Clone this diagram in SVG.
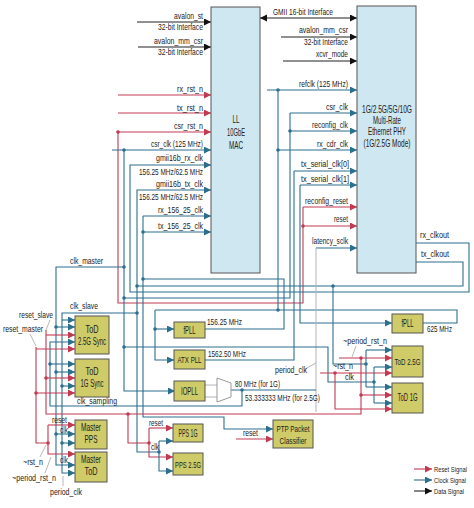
<svg xmlns="http://www.w3.org/2000/svg" width="474" height="508" viewBox="0 0 474 508">
<defs>
<style>
.t{font-family:"Liberation Sans",Arial,sans-serif;font-size:9.5px;fill:#222}
.b{font-family:"Liberation Sans",Arial,sans-serif;font-size:10.5px;fill:#222}
.lg{font-family:"Liberation Sans",Arial,sans-serif;font-size:7px;fill:#222}
.e{text-anchor:end}
.m{text-anchor:middle}
.big{fill:#cfe7f1;stroke:#555;stroke-width:1}
.y{fill:#cfcb68;stroke:#555;stroke-width:1}
.k{fill:none;stroke:#222;stroke-width:1.1}
.r{fill:none;stroke:#c23a52;stroke-width:1.1}
.c{fill:none;stroke:#2b6f8e;stroke-width:1.1}
.g{fill:none;stroke:#aeb3bb;stroke-width:1}
.ld{fill:none;stroke:#999;stroke-width:0.7}
.dc{fill:#2b6f8e}
.dr{fill:#c23a52}
</style>
<marker id="ak" markerUnits="userSpaceOnUse" markerWidth="8" markerHeight="8" refX="7" refY="3.5" orient="auto-start-reverse"><path d="M0,0 L7,3.5 L0,7 z" fill="#111"/></marker>
<marker id="ar" markerUnits="userSpaceOnUse" markerWidth="8" markerHeight="8" refX="7" refY="3.5" orient="auto"><path d="M0,0 L7,3.5 L0,7 z" fill="#c23a52"/></marker>
<marker id="ac" markerUnits="userSpaceOnUse" markerWidth="8" markerHeight="8" refX="7" refY="3.5" orient="auto"><path d="M0,0 L7,3.5 L0,7 z" fill="#2b6f8e"/></marker>
</defs>
<rect width="474" height="508" fill="#fff"/>

<g id="connectors">
<path class="k" d="M137 22 H211" marker-end="url(#ak)"/>
<path class="k" d="M138 47 H211" marker-end="url(#ak)"/>
<path class="k" d="M260 18 H357" marker-start="url(#ak)" marker-end="url(#ak)"/>
<path class="k" d="M281 37 H357" marker-end="url(#ak)"/>
<path class="k" d="M283 61 H357" marker-end="url(#ak)"/>
<path class="r" d="M118 95 H211" marker-end="url(#ar)"/>
<path class="r" d="M118 113 H211" marker-end="url(#ar)"/>
<path class="r" d="M118 132 H211" marker-end="url(#ar)"/>
<path class="r" d="M118 132 V303 H303 V207"/>
<path class="r" d="M303 207 H357" marker-end="url(#ar)"/>
<path class="r" d="M303 226 H357" marker-end="url(#ar)"/>
<path class="c" d="M112 150 H211" marker-end="url(#ac)"/>
<path class="c" d="M124 150 V391 H175" marker-end="url(#ac)"/>
<path class="c" d="M416 243 H469 V292 H130 V165 H211" marker-end="url(#ac)"/>
<path class="c" d="M416 262 H463 V286 H137 V190 H211" marker-end="url(#ac)"/>
<path class="c" d="M143 216 H211" marker-end="url(#ac)"/>
<path class="c" d="M143 232 H211" marker-end="url(#ac)"/>
<path class="c" d="M143 216 V417 H224 V429 H273" marker-end="url(#ac)"/>
<path class="c" d="M205 329 H284 V279 H143"/>
<path class="c" d="M267 90 H357" marker-end="url(#ac)"/>
<path class="c" d="M278 90 V310"/>
<path class="c" d="M155 310 H457 V323 H423"/>
<path class="c" d="M155 310 V360 H174" marker-end="url(#ac)"/>
<path class="c" d="M155 329 H174" marker-end="url(#ac)"/>
<path class="c" d="M290 113 H357" marker-end="url(#ac)"/>
<path class="c" d="M290 131 H357" marker-end="url(#ac)"/>
<path class="c" d="M290 113 V298 H124"/>
<path class="c" d="M278 150 H357" marker-end="url(#ac)"/>
<path class="c" d="M294 171 H357" marker-end="url(#ac)"/>
<path class="c" d="M205 360 H294 V171"/>
<path class="c" d="M300 185 H357" marker-end="url(#ac)"/>
<path class="c" d="M300 185 V323 H392" marker-end="url(#ac)"/>
<path class="c" d="M316 248 H357" marker-end="url(#ac)"/>
<path class="g" d="M316 248 V412"/>
<path class="c" d="M124 267 H56 V465 H75" marker-end="url(#ac)"/>
<path class="c" d="M56 327 H75" marker-end="url(#ac)"/>
<path class="c" d="M56 372 H75" marker-end="url(#ac)"/>
<path class="c" d="M56 434 H75" marker-end="url(#ac)"/>
<path class="c" d="M137 286 V452 H159"/>
<path class="c" d="M137 313 H62 V473 H75" marker-end="url(#ac)"/>
<path class="c" d="M62 320 H75" marker-end="url(#ac)"/>
<path class="c" d="M62 386 H75" marker-end="url(#ac)"/>
<path class="c" d="M62 443 H75" marker-end="url(#ac)"/>
<path class="c" d="M242 390 V406 H50 V342 H75" marker-end="url(#ac)"/>
<path class="c" d="M50 364 H75" marker-end="url(#ac)"/>
<path class="g" d="M205 385 H217 M205 397 H217"/>
<path class="c" d="M231 390 H316"/>
<path class="c" d="M124 347 H328 V382 H374"/>
<path class="c" d="M374 367 V403"/>
<path class="c" d="M374 367 H392" marker-end="url(#ac)"/>
<path class="c" d="M374 403 H392" marker-end="url(#ac)"/>
<path class="c" d="M333 286 V364 H366"/>
<path class="c" d="M366 350 V387"/>
<path class="c" d="M366 350 H392" marker-end="url(#ac)"/>
<path class="c" d="M366 387 H392" marker-end="url(#ac)"/>
<path class="r" d="M339 358 H392" marker-end="url(#ar)"/>
<path class="r" d="M361 358 V414 H46 V330"/>
<path class="r" d="M361 395 H392" marker-end="url(#ar)"/>
<path class="r" d="M320 373 H392" marker-end="url(#ar)"/>
<path class="r" d="M335 373 V409 H392" marker-end="url(#ar)"/>
<path class="r" d="M46 335 H75" marker-end="url(#ar)"/>
<path class="r" d="M46 378 H75" marker-end="url(#ar)"/>
<path class="r" d="M36 347 V443 H48"/>
<path class="r" d="M36 349 H75" marker-end="url(#ar)"/>
<path class="r" d="M36 393 H75" marker-end="url(#ar)"/>
<path class="r" d="M48 425 V454 H75" marker-end="url(#ar)"/>
<path class="r" d="M48 425 H75" marker-end="url(#ar)"/>
<path class="r" d="M128 414 V443 H149"/>
<path class="r" d="M149 428 V457 H173" marker-end="url(#ar)"/>
<path class="r" d="M149 428 H173" marker-end="url(#ar)"/>
<path class="c" d="M159 441 V471 H173" marker-end="url(#ac)"/>
<path class="c" d="M159 441 H173" marker-end="url(#ac)"/>
<path class="r" d="M236 439 H273" marker-end="url(#ar)"/>
<path class="ld" d="M50 320 L46 330 M30 334 L36 346 M356 346 L352 357 M305 369 L316 363 M40 457 L46 445 M45 473 L51 457 M63 486 L63 476"/>
<g class="dc">
<circle cx="124" cy="150" r="1.8"/><circle cx="124" cy="267" r="1.8"/><circle cx="124" cy="298" r="1.8"/><circle cx="124" cy="347" r="1.8"/>
<circle cx="137" cy="286" r="1.8"/><circle cx="333" cy="286" r="1.8"/><circle cx="137" cy="313" r="1.8"/>
<circle cx="143" cy="232" r="1.8"/><circle cx="143" cy="279" r="1.8"/>
<circle cx="278" cy="90" r="1.8"/><circle cx="278" cy="150" r="1.8"/><circle cx="278" cy="310" r="1.8"/><circle cx="155" cy="329" r="1.8"/>
<circle cx="290" cy="131" r="1.8"/>
<circle cx="56" cy="327" r="1.8"/><circle cx="56" cy="372" r="1.8"/><circle cx="56" cy="434" r="1.8"/>
<circle cx="62" cy="386" r="1.8"/><circle cx="62" cy="443" r="1.8"/>
<circle cx="50" cy="364" r="1.8"/><circle cx="242" cy="390" r="1.8"/>
<circle cx="374" cy="382" r="1.8"/><circle cx="366" cy="364" r="1.8"/>
<circle cx="159" cy="452" r="1.8"/>
</g>
<g class="dr">
<circle cx="118" cy="132" r="1.8"/><circle cx="303" cy="226" r="1.8"/>
<circle cx="361" cy="358" r="1.8"/><circle cx="361" cy="395" r="1.8"/><circle cx="335" cy="373" r="1.8"/>
<circle cx="46" cy="378" r="1.8"/><circle cx="36" cy="393" r="1.8"/><circle cx="48" cy="443" r="1.8"/>
<circle cx="128" cy="414" r="1.8"/><circle cx="149" cy="443" r="1.8"/>
</g>
</g>

<g id="labels">
<text class="t e" x="203" y="19" textLength="29" lengthAdjust="spacingAndGlyphs">avalon_st</text>
<text class="t e" x="203" y="30" textLength="45" lengthAdjust="spacingAndGlyphs">32-bit Interface</text>
<text class="t e" x="203" y="44" textLength="49" lengthAdjust="spacingAndGlyphs">avalon_mm_csr</text>
<text class="t e" x="203" y="55" textLength="45" lengthAdjust="spacingAndGlyphs">32-bit Interface</text>
<text class="t e" x="203" y="92" textLength="26" lengthAdjust="spacingAndGlyphs">rx_rst_n</text>
<text class="t e" x="203" y="111" textLength="26" lengthAdjust="spacingAndGlyphs">tx_rst_n</text>
<text class="t e" x="203" y="129" textLength="29" lengthAdjust="spacingAndGlyphs">csr_rst_n</text>
<text class="t e" x="203" y="147" textLength="52" lengthAdjust="spacingAndGlyphs">csr_clk (125 MHz)</text>
<text class="t e" x="203" y="161" textLength="47" lengthAdjust="spacingAndGlyphs">gmii16b_rx_clk</text>
<text class="t e" x="203" y="175" textLength="64" lengthAdjust="spacingAndGlyphs">156.25 MHz/62.5 MHz</text>
<text class="t e" x="203" y="187" textLength="47" lengthAdjust="spacingAndGlyphs">gmii16b_tx_clk</text>
<text class="t e" x="203" y="200" textLength="64" lengthAdjust="spacingAndGlyphs">156.25 MHz/62.5 MHz</text>
<text class="t e" x="203" y="213" textLength="45" lengthAdjust="spacingAndGlyphs">rx_156_25_clk</text>
<text class="t e" x="203" y="229" textLength="45" lengthAdjust="spacingAndGlyphs">tx_156_25_clk</text>
<text class="t" x="70" y="264" textLength="33" lengthAdjust="spacingAndGlyphs">clk_master</text>
<text class="t" x="273" y="15" textLength="60" lengthAdjust="spacingAndGlyphs">GMII 16-bit Interface</text>
<text class="t e" x="348" y="33" textLength="49" lengthAdjust="spacingAndGlyphs">avalon_mm_csr</text>
<text class="t e" x="348" y="45" textLength="44" lengthAdjust="spacingAndGlyphs">32-bit Interface</text>
<text class="t e" x="348" y="57" textLength="32" lengthAdjust="spacingAndGlyphs">xcvr_mode</text>
<text class="t e" x="348" y="87" textLength="49" lengthAdjust="spacingAndGlyphs">refclk (125 MHz)</text>
<text class="t e" x="348" y="110" textLength="22" lengthAdjust="spacingAndGlyphs">csr_clk</text>
<text class="t e" x="348" y="128" textLength="36" lengthAdjust="spacingAndGlyphs">reconfig_clk</text>
<text class="t e" x="348" y="147" textLength="31" lengthAdjust="spacingAndGlyphs">rx_cdr_clk</text>
<text class="t e" x="349" y="167" textLength="48" lengthAdjust="spacingAndGlyphs">tx_serial_clk[0]</text>
<text class="t e" x="349" y="182" textLength="48" lengthAdjust="spacingAndGlyphs">tx_serial_clk[1]</text>
<text class="t e" x="348" y="204" textLength="43" lengthAdjust="spacingAndGlyphs">reconfig_reset</text>
<text class="t e" x="348" y="222" textLength="14" lengthAdjust="spacingAndGlyphs">reset</text>
<text class="t e" x="348" y="244" textLength="36" lengthAdjust="spacingAndGlyphs">latency_sclk</text>
<text class="t e" x="449" y="238" textLength="29" lengthAdjust="spacingAndGlyphs">rx_clkout</text>
<text class="t e" x="449" y="257" textLength="28" lengthAdjust="spacingAndGlyphs">tx_clkout</text>
<text class="t" x="70" y="309" textLength="28" lengthAdjust="spacingAndGlyphs">clk_slave</text>
<text class="t" x="19" y="318" textLength="34" lengthAdjust="spacingAndGlyphs">reset_slave</text>
<text class="t" x="3" y="332" textLength="40" lengthAdjust="spacingAndGlyphs">reset_master</text>
<text class="t" x="77" y="404" textLength="40" lengthAdjust="spacingAndGlyphs">clk_sampling</text>
<text class="t" x="207" y="325" textLength="35" lengthAdjust="spacingAndGlyphs">156.25 MHz</text>
<text class="t" x="208" y="357" textLength="38" lengthAdjust="spacingAndGlyphs">1562.50 MHz</text>
<text class="t" x="275" y="373" textLength="32" lengthAdjust="spacingAndGlyphs">period_clk</text>
<text class="t" x="235" y="387" textLength="45" lengthAdjust="spacingAndGlyphs">80 MHz (for 1G)</text>
<text class="t" x="245" y="401" textLength="75" lengthAdjust="spacingAndGlyphs">53.333333 MHz (for 2.5G)</text>
<text class="t e" x="452" y="332" textLength="25" lengthAdjust="spacingAndGlyphs">625 MHz</text>
<text class="t" x="343" y="344" textLength="44" lengthAdjust="spacingAndGlyphs">~period_rst_n</text>
<text class="t" x="333" y="369" textLength="20" lengthAdjust="spacingAndGlyphs">~rst_n</text>
<text class="t" x="345" y="380" textLength="9" lengthAdjust="spacingAndGlyphs">clk</text>
<text class="t" x="52" y="423" textLength="15" lengthAdjust="spacingAndGlyphs">reset</text>
<text class="t" x="60" y="433" textLength="8" lengthAdjust="spacingAndGlyphs">clk</text>
<text class="t" x="60" y="463" textLength="8" lengthAdjust="spacingAndGlyphs">clk</text>
<text class="t" x="23" y="465" textLength="20" lengthAdjust="spacingAndGlyphs">~rst_n</text>
<text class="t" x="12" y="481" textLength="44" lengthAdjust="spacingAndGlyphs">~period_rst_n</text>
<text class="t" x="50" y="495" textLength="32" lengthAdjust="spacingAndGlyphs">period_clk</text>
<text class="t" x="149" y="426" textLength="14" lengthAdjust="spacingAndGlyphs">reset</text>
<text class="t" x="151" y="450" textLength="8" lengthAdjust="spacingAndGlyphs">clk</text>
<text class="t" x="243" y="436" textLength="15" lengthAdjust="spacingAndGlyphs">reset</text>
</g>

<g id="mac">
<rect class="big" x="211" y="7" width="49" height="266"/>
<text class="b m" x="236" y="123" textLength="7" lengthAdjust="spacingAndGlyphs">LL</text>
<text class="b m" x="236" y="136" textLength="18" lengthAdjust="spacingAndGlyphs">10GbE</text>
<text class="b m" x="236" y="149" textLength="14" lengthAdjust="spacingAndGlyphs">MAC</text>
</g>
<g id="phy">
<rect class="big" x="357" y="6" width="59" height="267"/>
<text class="b m" x="387" y="113" textLength="50" lengthAdjust="spacingAndGlyphs">1G/2.5G/5G/10G</text>
<text class="b m" x="387" y="124" textLength="28" lengthAdjust="spacingAndGlyphs">Multi-Rate</text>
<text class="b m" x="387" y="135" textLength="38" lengthAdjust="spacingAndGlyphs">Ethernet PHY</text>
<text class="b m" x="387" y="147" textLength="47" lengthAdjust="spacingAndGlyphs">(1G/2.5G Mode)</text>
</g>
<g id="tod25sync">
<rect class="y" x="75" y="316" width="34" height="38"/>
<text class="b m" x="92" y="333" textLength="13" lengthAdjust="spacingAndGlyphs">ToD</text>
<text class="b m" x="92" y="345" textLength="28" lengthAdjust="spacingAndGlyphs">2.5G Sync</text>
</g>
<g id="tod1gsync">
<rect class="y" x="75" y="359" width="34" height="38"/>
<text class="b m" x="92" y="375" textLength="13" lengthAdjust="spacingAndGlyphs">ToD</text>
<text class="b m" x="92" y="387" textLength="23" lengthAdjust="spacingAndGlyphs">1G Sync</text>
</g>
<g id="fpll1">
<rect class="y" x="174" y="322" width="31" height="16"/>
<text class="b m" x="189.5" y="334" textLength="12" lengthAdjust="spacingAndGlyphs">fPLL</text>
</g>
<g id="atxpll">
<rect class="y" x="174" y="350" width="31" height="19"/>
<text class="b m" x="189.5" y="363" style="font-size:8.5px" textLength="24" lengthAdjust="spacingAndGlyphs">ATX PLL</text>
</g>
<g id="iopll">
<rect class="y" x="174" y="381" width="31" height="20"/>
<text class="b m" x="189.5" y="395" textLength="17" lengthAdjust="spacingAndGlyphs">IOPLL</text>
</g>
<g id="mux">
<path d="M217 378 L231 383 L231 397 L217 402 Z" fill="#fff" stroke="#999" stroke-width="1"/>
</g>
<g id="fpll2">
<rect class="y" x="392" y="314" width="31" height="19"/>
<text class="b m" x="407.5" y="327" textLength="12" lengthAdjust="spacingAndGlyphs">fPLL</text>
</g>
<g id="tod25">
<rect class="y" x="392" y="346" width="31" height="31"/>
<text class="b m" x="407.5" y="365" style="font-size:9px" textLength="26" lengthAdjust="spacingAndGlyphs">ToD 2.5G</text>
</g>
<g id="tod1g">
<rect class="y" x="392" y="383" width="31" height="30"/>
<text class="b m" x="407.5" y="401" textLength="20" lengthAdjust="spacingAndGlyphs">ToD 1G</text>
</g>
<g id="masterpps">
<rect class="y" x="75" y="420" width="32" height="29"/>
<text class="b m" x="91" y="431" textLength="20" lengthAdjust="spacingAndGlyphs">Master</text>
<text class="b m" x="91" y="443" textLength="13" lengthAdjust="spacingAndGlyphs">PPS</text>
</g>
<g id="mastertod">
<rect class="y" x="75" y="452" width="32" height="30"/>
<text class="b m" x="91" y="463" textLength="20" lengthAdjust="spacingAndGlyphs">Master</text>
<text class="b m" x="91" y="475" textLength="13" lengthAdjust="spacingAndGlyphs">ToD</text>
</g>
<g id="pps1g">
<rect class="y" x="173" y="424" width="30" height="18"/>
<text class="b m" x="188" y="437" textLength="19" lengthAdjust="spacingAndGlyphs">PPS 1G</text>
</g>
<g id="pps25g">
<rect class="y" x="173" y="453" width="30" height="22"/>
<text class="b m" x="188" y="468" style="font-size:9px" textLength="26" lengthAdjust="spacingAndGlyphs">PPS 2.5G</text>
</g>
<g id="ptp">
<rect class="y" x="273" y="420" width="40" height="28"/>
<text class="b m" x="293" y="432" style="font-size:9px" textLength="33" lengthAdjust="spacingAndGlyphs">PTP Packet</text>
<text class="b m" x="293" y="444" style="font-size:9px" textLength="27" lengthAdjust="spacingAndGlyphs">Classifier</text>
</g>
<g id="legend">
<path class="r" d="M414 469 H432" marker-end="url(#ar)"/>
<path class="c" d="M414 480 H432" marker-end="url(#ac)"/>
<path class="k" d="M414 491 H432" marker-end="url(#ak)"/>
<text class="lg" x="434" y="472" textLength="33" lengthAdjust="spacingAndGlyphs">Reset Signal</text>
<text class="lg" x="434" y="483" textLength="32" lengthAdjust="spacingAndGlyphs">Clock Signal</text>
<text class="lg" x="434" y="494" textLength="30" lengthAdjust="spacingAndGlyphs">Data Signal</text>
</g>
</svg>
